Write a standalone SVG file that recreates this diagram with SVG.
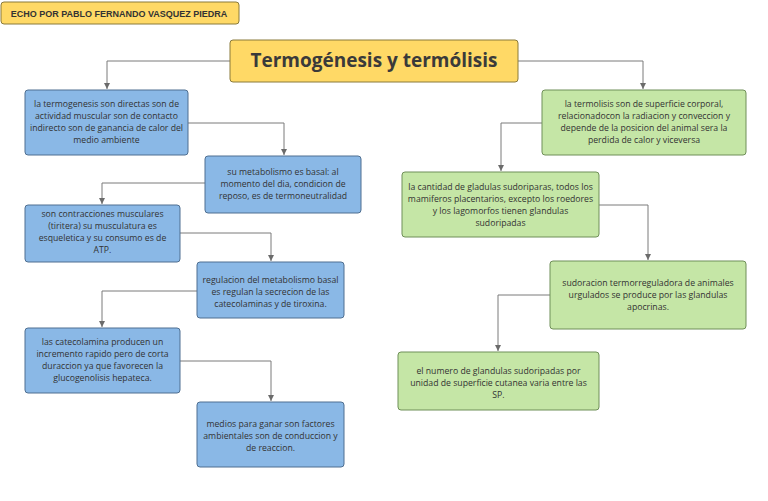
<svg xmlns="http://www.w3.org/2000/svg" width="768" height="501" viewBox="0 0 768 501">
<defs>
<marker id="ah" markerWidth="8" markerHeight="8" refX="6" refY="4" orient="auto" markerUnits="userSpaceOnUse">
<path d="M0,1 L6,4 L0,7 Z" fill="#6b6b6b"/>
</marker>
<style>
.blue{fill:#8ab8e6;stroke:#4f6f91;stroke-width:1}
.green{fill:#c5e6a6;stroke:#6f8f58;stroke-width:1}
.yellow{fill:#ffd966;stroke:#8a7a3a;stroke-width:1}
.t{font-family:"Open Sans","Liberation Sans",Arial,sans-serif;font-size:8.7px;fill:#333;text-anchor:middle}
.c{fill:none;stroke:#7a7a7a;stroke-width:1;marker-end:url(#ah)}
</style>
</defs>
<rect width="768" height="501" fill="#ffffff"/>
<g id="connectors">
<path class="c" d="M230,61 H107 V89"/>
<path class="c" d="M518,61 H643 V89"/>
<path class="c" d="M188,123 H284 V155"/>
<path class="c" d="M205,183 H102 V204"/>
<path class="c" d="M180,233 H271 V261"/>
<path class="c" d="M197,291 H102 V327"/>
<path class="c" d="M180,361 H271 V401"/>
<path class="c" d="M542,123 H501 V171"/>
<path class="c" d="M599,205 H648 V260"/>
<path class="c" d="M550,295 H498 V351"/>
</g>
<g id="header">
<rect class="yellow" x="1" y="2" width="238" height="22" rx="3"/>
<text x="119" y="16.5" style="font-family:'Liberation Sans',Arial,sans-serif;font-size:9px;font-weight:bold;fill:#333;text-anchor:middle">ECHO POR PABLO FERNANDO VASQUEZ PIEDRA</text>
</g>
<g id="title">
<rect class="yellow" x="230" y="40" width="288" height="42" rx="3"/>
<text x="374" y="67" style="font-family:'Open Sans',sans-serif;font-size:19px;font-weight:bold;fill:#3a3a3a;text-anchor:middle">Termogénesis y termólisis</text>
</g>
<g id="n1">
<rect class="blue" x="25" y="90" width="163" height="65" rx="3"/>
<text class="t"><tspan x="106.5" y="107">la termogenesis son directas son de</tspan><tspan x="106.5" y="119">actividad muscular son de contacto</tspan><tspan x="106.5" y="131">indirecto son de ganancia de calor del</tspan><tspan x="106.5" y="143">medio ambiente</tspan></text>
</g>
<g id="n2">
<rect class="blue" x="205" y="156" width="156" height="57" rx="3"/>
<text class="t"><tspan x="283" y="175">su metabolismo es basal: al</tspan><tspan x="283" y="187">momento del dia, condicion de</tspan><tspan x="283" y="199">reposo, es de termoneutralidad</tspan></text>
</g>
<g id="n3">
<rect class="blue" x="25" y="205" width="155" height="57" rx="3"/>
<text class="t"><tspan x="102.5" y="217">son contracciones musculares</tspan><tspan x="102.5" y="229">(tiritera) su musculatura es</tspan><tspan x="102.5" y="241">esqueletica y su consumo es de</tspan><tspan x="102.5" y="253">ATP.</tspan></text>
</g>
<g id="n4">
<rect class="blue" x="197" y="262" width="147" height="56" rx="3"/>
<text class="t"><tspan x="270.5" y="283">regulacion del metabolismo basal</tspan><tspan x="270.5" y="295">es regulan la secrecion de las</tspan><tspan x="270.5" y="307">catecolaminas y de tiroxina.</tspan></text>
</g>
<g id="n5">
<rect class="blue" x="25" y="328" width="155" height="65" rx="3"/>
<text class="t"><tspan x="102.5" y="345">las catecolamina producen un</tspan><tspan x="102.5" y="357">incremento rapido pero de corta</tspan><tspan x="102.5" y="369">duraccion ya que favorecen la</tspan><tspan x="102.5" y="381">glucogenolisis hepateca.</tspan></text>
</g>
<g id="n6">
<rect class="blue" x="197" y="402" width="147" height="65" rx="3"/>
<text class="t"><tspan x="270.5" y="427">medios para ganar son factores</tspan><tspan x="270.5" y="439">ambientales son de conduccion y</tspan><tspan x="270.5" y="451">de reaccion.</tspan></text>
</g>
<g id="r1">
<rect class="green" x="542" y="90" width="204" height="65" rx="3"/>
<text class="t"><tspan x="644" y="107">la termolisis son de superficie corporal,</tspan><tspan x="644" y="119">relacionadocon la radiacion y conveccion y</tspan><tspan x="644" y="131">depende de la posicion del animal sera la</tspan><tspan x="644" y="143">perdida de calor y viceversa</tspan></text>
</g>
<g id="r2">
<rect class="green" x="402" y="172" width="197" height="65" rx="3"/>
<text class="t"><tspan x="500.5" y="190">la cantidad de gladulas sudoriparas, todos los</tspan><tspan x="500.5" y="202">mamiferos placentarios, excepto los roedores</tspan><tspan x="500.5" y="214">y los lagomorfos tienen glandulas</tspan><tspan x="500.5" y="226">sudoripadas</tspan></text>
</g>
<g id="r3">
<rect class="green" x="550" y="261" width="196" height="68" rx="3"/>
<text class="t"><tspan x="648" y="286">sudoracion termorreguladora de animales</tspan><tspan x="648" y="298">urgulados se produce por las glandulas</tspan><tspan x="648" y="310">apocrinas.</tspan></text>
</g>
<g id="r4">
<rect class="green" x="398" y="352" width="201" height="58" rx="3"/>
<text class="t"><tspan x="498.5" y="374">el numero de glandulas sudoripadas por</tspan><tspan x="498.5" y="386">unidad de superficie cutanea varia entre las</tspan><tspan x="498.5" y="398">SP.</tspan></text>
</g>
</svg>
